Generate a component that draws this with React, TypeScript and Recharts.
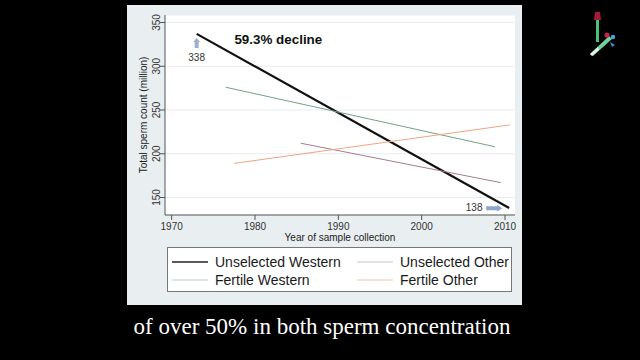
import React from 'react';
import { LineChart, Line, XAxis, YAxis, CartesianGrid, ReferenceDot } from 'recharts';

const seriesNames = ['Unselected Western', 'Unselected Other', 'Fertile Western', 'Fertile Other'];
const startYears = [1973, 1985.5, 1976.5, 1977.5];
const endYears = [2010.5, 2009.5, 2008.8, 2010.6];
const startValues = [337, 212, 276, 189];
const endValues = [138, 167, 208, 233];
const seriesColors = ['#111111', '#a47c92', '#72a283', '#eda584'];
const legendColors = ['#222222', '#cdbfc7', '#bccbc2', '#f0c6b4'];
const seriesWidths = [2.2, 1, 1, 1];

const xTicks = [1970, 1980, 1990, 2000, 2010];
const yTicks = [150, 200, 250, 300, 350];

const declineLabel = '59.3% decline';
const startLabel = '338';
const endLabel = '138';
const subtitle = 'of over 50% in both sperm concentration';

const FONT = '"Liberation Sans", Arial, Helvetica, sans-serif';

const seriesData = seriesNames.map((name, i) => ({
  name,
  data: [
    { year: startYears[i], value: startValues[i] },
    { year: endYears[i], value: endValues[i] },
  ],
}));

const YTick = (p: any) => {
  const { x, y, payload } = p;
  return (
    <text
      x={x - 1}
      y={y}
      dy="0.35em"
      textAnchor="middle"
      transform={`rotate(-90 ${x - 1} ${y})`}
      fontSize={10}
      fontFamily={FONT}
      fill="#333"
    >
      {payload.value}
    </text>
  );
};

const XTick = (p: any) => {
  const { x, y, payload } = p;
  return (
    <text x={x} y={y} dy="0.8em" textAnchor="middle" fontSize={10} fontFamily={FONT} fill="#333">
      {payload.value}
    </text>
  );
};

const UpArrow = (p: any) => {
  const { cx, cy } = p;
  return (
    <path
      d={`M${cx - 2},${cy + 5} L${cx - 2},${cy - 1} L${cx - 3.5},${cy - 1} L${cx},${cy - 5} L${cx + 3.5},${cy - 1} L${cx + 2},${cy - 1} L${cx + 2},${cy + 5} Z`}
      fill="#9cb1cd"
    />
  );
};

const RightArrow = (p: any) => {
  const { cx, cy } = p;
  return (
    <path
      d={`M${cx - 8},${cy - 2} L${cx + 3},${cy - 2} L${cx + 3},${cy - 3.5} L${cx + 8},${cy} L${cx + 3},${cy + 3.5} L${cx + 3},${cy + 2} L${cx - 8},${cy + 2} Z`}
      fill="#8ea6c8"
    />
  );
};

const makeText = (value: string, size: number, bold: boolean) => (p: any) => (
  <text
    x={p.cx}
    y={p.cy}
    dy="0.35em"
    textAnchor="middle"
    fontSize={size}
    fontWeight={bold ? 'bold' : 'normal'}
    fontFamily={FONT}
    fill={bold ? '#111' : '#333'}
  >
    {value}
  </text>
);

const Logo = () => (
  <svg width={40} height={60} style={{ position: 'absolute', left: 582, top: 4 }}>
    <path d="M13,8 L18,8 L19,16 L12,16 Z" fill="#a3193f" />
    <rect x={14} y={16} width={3} height={22} fill="#48c27a" />
    <path d="M8,50 L27,32 L30,35 L11,52 Z" fill="#6fd39a" />
    <path d="M8,50 L16,43 L17,46 L10,52 Z" fill="#e8f0ea" />
    <circle cx={25} cy={31} r={2.6} fill="#c0244f" />
    <circle cx={31} cy={33} r={2.2} fill="#4aa6d8" />
    <path d="M28,38 L33,41 L30,43 Z" fill="#3a8fc4" />
  </svg>
);

export default function App() {
  return (
    <div style={{ position: 'absolute', left: 0, top: 0, width: 640, height: 360, background: '#000', overflow: 'hidden' }}>
      <div style={{ position: 'absolute', left: 127, top: 5, width: 395, height: 300, background: '#e9eff1' }} />
      <div style={{ position: 'absolute', left: 127, top: 5 }}>
        <LineChart width={395} height={300} margin={{ top: 10, right: 7, bottom: 60, left: 0 }}>
          <CartesianGrid vertical={false} stroke="#e7edef" fill="#ffffff" />
          <XAxis
            dataKey="year"
            type="number"
            domain={[1969.2, 2011.2]}
            ticks={xTicks}
            allowDataOverflow
            height={30}
            stroke="#555"
            tickSize={5}
            tick={<XTick />}
            label={{ value: 'Year of sample collection', position: 'insideBottom', offset: 4, fontSize: 10, fontFamily: FONT, fill: '#222' }}
          />
          <YAxis
            type="number"
            domain={[130, 358.6]}
            ticks={yTicks}
            allowDataOverflow
            width={38}
            stroke="#555"
            tickSize={5}
            tick={<YTick />}
            label={{ value: 'Total sperm count (million)', angle: -90, position: 'insideLeft', offset: 16, textAnchor: 'middle', fontSize: 10, fontFamily: FONT, fill: '#222' }}
          />
          {seriesData.map((s, i) => (
            <Line
              key={s.name}
              data={s.data}
              dataKey="value"
              name={s.name}
              stroke={seriesColors[i]}
              strokeWidth={seriesWidths[i]}
              dot={false}
              activeDot={false}
              isAnimationActive={false}
              type="linear"
            />
          ))}
          <ReferenceDot x={1982.8} y={331} r={0} shape={makeText(declineLabel, 13.4, true)} />
          <ReferenceDot x={1973} y={326.6} r={0} shape={UpArrow} />
          <ReferenceDot x={1973} y={310.2} r={0} shape={makeText(startLabel, 10, false)} />
          <ReferenceDot x={2006.3} y={138.3} r={0} shape={makeText(endLabel, 10, false)} />
          <ReferenceDot x={2008.7} y={137.8} r={0} shape={RightArrow} />
        </LineChart>
      </div>
      <svg width={346} height={46} style={{ position: 'absolute', left: 167, top: 247 }}>
        <rect x={0.5} y={0.5} width={344} height={44} fill="#fff" stroke="#777" />
        {[0, 2, 1, 3].map((si, k) => {
          const col = k < 2 ? 0 : 1;
          const row = k % 2;
          const lx = col === 0 ? 5 : 190;
          const ty = row === 0 ? 15 : 33;
          return (
            <g key={si}>
              <line x1={lx} x2={lx + 36} y1={ty} y2={ty} stroke={legendColors[si]} strokeWidth={si === 0 ? 1.6 : 1} />
              <text x={lx + 43} y={ty} dy="0.36em" fontSize={14} fontFamily={FONT} fill="#1a1a1a">
                {seriesNames[si]}
              </text>
            </g>
          );
        })}
      </svg>
      <div
        style={{
          position: 'absolute',
          left: 0,
          width: 640,
          top: 313,
          textAlign: 'center',
          color: '#fff',
          fontFamily: '"Liberation Serif", "Times New Roman", serif',
          fontSize: 23,
          lineHeight: '28px',
          paddingLeft: 2,
        }}
      >
        {subtitle}
      </div>
      <Logo />
    </div>
  );
}
